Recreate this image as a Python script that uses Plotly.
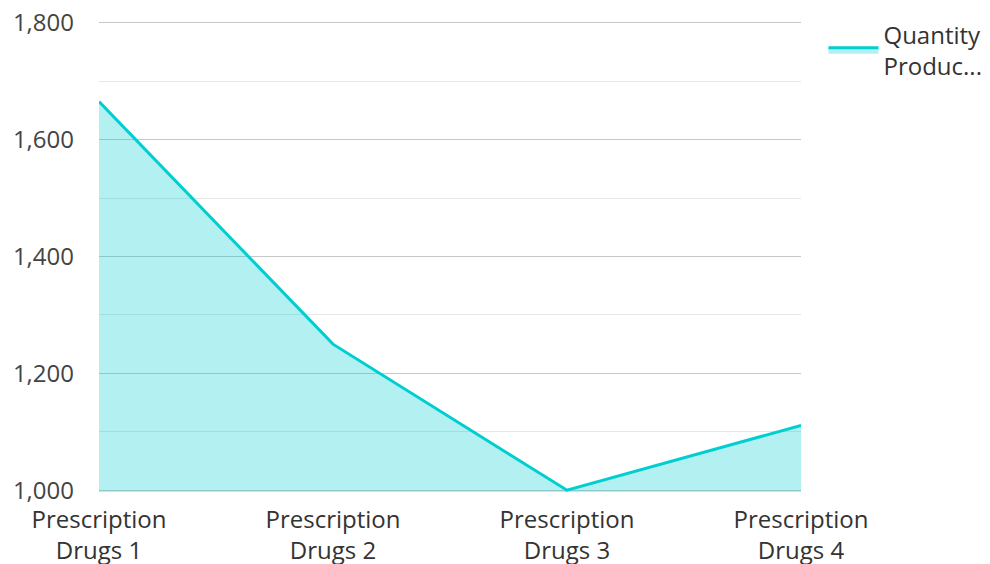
import plotly.graph_objects as go

categories = ["Prescription<br>Drugs 1", "Prescription<br>Drugs 2", "Prescription<br>Drugs 3", "Prescription<br>Drugs 4"]
quantity = [1665, 1250, 1000, 1111]
series_name = "Quantity<br>Produc..."
y_ticks = [1000, 1200, 1400, 1600, 1800]
y_tick_labels = ["1,000", "1,200", "1,400", "1,600", "1,800"]

fig = go.Figure()
fig.add_trace(go.Scatter(
    x=categories, y=quantity, name=series_name, mode="lines",
    line=dict(color="#00CED1", width=3),
    fill="tozeroy", fillcolor="rgba(0,206,209,0.3)",
))

font = "Open Sans, Noto Sans, sans-serif"
fig.update_layout(
    width=990, height=564,
    margin=dict(l=99, r=189, t=21, b=72, autoexpand=False),
    paper_bgcolor="white", plot_bgcolor="white",
    font=dict(family=font, size=24, color="#444444"),
    showlegend=True,
    legend=dict(x=1.032, y=1.019, xanchor="left", yanchor="top", itemwidth=50,
                font=dict(size=24, color="#333333"), bgcolor="rgba(0,0,0,0)",
                tracegroupgap=0),
    xaxis=dict(type="category", range=[0, 3], showgrid=False, zeroline=False,
               showline=False, ticks="", ticklabelstandoff=11, automargin=False,
               tickfont=dict(size=24, color="#333333")),
    yaxis=dict(range=[997, 1803], tickvals=y_ticks, ticktext=y_tick_labels,
               showgrid=True, gridcolor="#c8c8c8", gridwidth=1, zeroline=False,
               showline=False, ticks="", ticklabelstandoff=24, automargin=False,
               tickfont=dict(size=24, color="#444444"),
               minor=dict(dtick=100, tick0=1000, showgrid=True, gridcolor="#e6e6e6", gridwidth=1)),
)
fig.write_html("out.html")
